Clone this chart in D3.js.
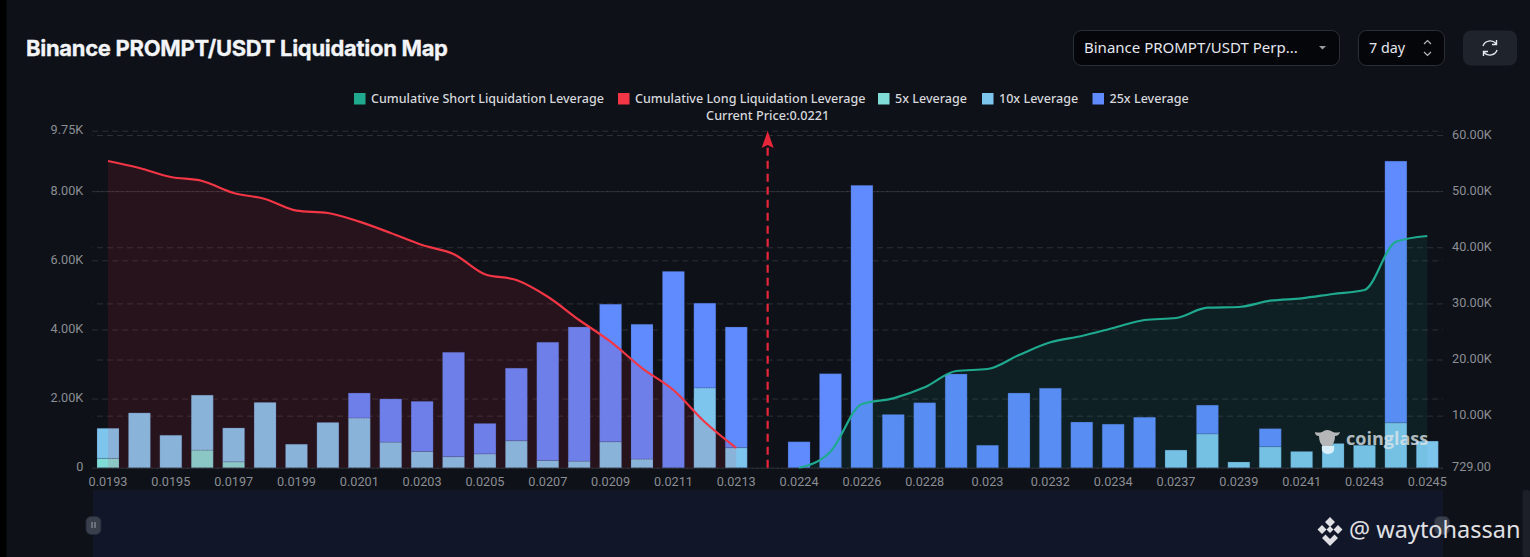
<!DOCTYPE html>
<html>
<head>
<meta charset="utf-8">
<script src="https://cdn.jsdelivr.net/npm/d3@7"></script>
<style>
  html, body { margin: 0; padding: 0; background: #0e1118; overflow: hidden; }
  svg { display: block; }
</style>
</head>
<body>
<svg id="chart" width="1530" height="557"></svg>
<script>
// ===== Data =====
const categories = ["0.0193","0.0194","0.0195","0.0196","0.0197","0.0198","0.0199","0.02","0.0201","0.0202","0.0203",
  "0.0204","0.0205","0.0206","0.0207","0.0208","0.0209","0.021","0.0211","0.0212","0.0213","0.0221",
  "0.0224","0.0225","0.0226","0.0227","0.0228","0.0229","0.023","0.0231","0.0232","0.0233","0.0234","0.0235",
  "0.0237","0.0238","0.0239","0.024","0.0241","0.0242","0.0243","0.0244","0.0245"];
const lev5 = [270,0,0,510,170,0,0,0,0,0,0,0,0,0,0,0,0,0,0,0,0,0,0,0,0,0,0,0,0,0,0,0,0,0,0,0,0,0,0,0,0,0,0];
const lev10 = [870,1585,940,1590,980,1890,680,1310,1440,740,470,320,400,780,210,190,750,250,0,2310,580,0,
  0,0,0,0,0,0,0,0,0,0,0,0,510,980,165,610,470,700,650,1300,770];
const lev25 = [0,0,0,0,0,0,0,0,720,1250,1450,3020,880,2100,3420,3880,3980,3900,5680,2450,3490,0,
  750,2720,8170,1540,1880,2710,650,2160,2300,1320,1260,1460,0,830,0,520,0,0,0,7570,0];
const longCum = [55370,54120,52520,51810,49670,48600,46520,46100,44560,42540,40400,38800,35190,34170,31190,27040,23180,18490,14570,8870,4240];
const shortCum = [729,3580,12080,13090,15050,17960,18310,20810,23070,24190,25620,27040,27400,29230,29360,30480,30910,31680,32390,40990,42010];
const leftTicks = [0,2000,4000,6000,8000,9750];
const rightTicks = [729,10000,20000,30000,40000,50000,60000];
const legendItems = [
  { name: "Cumulative Short Liquidation Leverage", color: "#1fa98f", x: 354 },
  { name: "Cumulative Long Liquidation Leverage", color: "#f23645", x: 618 },
  { name: "5x Leverage", color: "#7fdcd6", x: 878 },
  { name: "10x Leverage", color: "#7ec5ee", x: 982 },
  { name: "25x Leverage", color: "#5f8bff", x: 1092.5 }
];
const currentPrice = "0.0221";
const title = "Binance PROMPT/USDT Liquidation Map";
//===============================End of Data===========================

const svg = d3.select("#chart");
const sansFont = "'Noto Sans', sans-serif";
const tickFont = "Roboto, sans-serif";
const tickColor = "#8b8e94";
const gridColor = "rgba(255,255,255,0.13)";

// left edge strip + page background
svg.append("rect").attr("width", 1530).attr("height", 557).attr("fill", "#0e1118");
svg.append("rect").attr("width", 6.5).attr("height", 557).attr("fill", "#000");

//============Scales===================================
const x = d3.scaleBand().domain(categories).range([92.3, 1443]).paddingInner(0.3).paddingOuter(0.15);
const yLeft = d3.scaleLinear().domain([0, 9750]).range([467.7, 130.7]);
const yRight = d3.scaleLinear().domain([729, 60000]).range([467.7, 135]);
const cx = c => x(c) + x.bandwidth() / 2;

//============Slider strip under the chart=============
svg.append("rect").attr("x", 93).attr("y", 490).attr("width", 1350).attr("height", 67).attr("fill", "#111729");

//============Axes=====================================
const fmtK = d => d === 0 ? "0" : d < 1000 ? d3.format(".2f")(d) : d3.format(".2f")(d / 1000) + "K";

function styleAxis(g) {
  g.select(".domain").remove();
  g.selectAll("text").attr("fill", tickColor).style("font-family", tickFont).style("font-size", "12.7px");
  g.selectAll("line").attr("stroke", gridColor).attr("stroke-dasharray", "6,4");
}

svg.append("g")
  .attr("transform", "translate(92.3,0)")
  .call(d3.axisLeft(yLeft).tickValues(leftTicks).tickFormat(fmtK).tickSize(-1350.7).tickPadding(9))
  .call(styleAxis)
  .selectAll("text").attr("dy", "0.25em");

svg.append("g")
  .attr("transform", "translate(1443,0)")
  .call(d3.axisRight(yRight).tickValues(rightTicks).tickFormat(fmtK).tickSize(-1350.7).tickPadding(9))
  .call(styleAxis)
  .selectAll("text").attr("dy", "0.25em");

svg.append("g")
  .attr("transform", "translate(0,467.7)")
  .call(d3.axisBottom(x).tickValues(categories.filter((d, i) => i % 2 === 0)).tickSize(0).tickPadding(9))
  .call(styleAxis);

//============Stacked bars=============================
const barData = categories.map((c, i) => ({ cat: c, lev5: lev5[i], lev10: lev10[i], lev25: lev25[i] }));
const stack = d3.stack().keys(["lev5", "lev10", "lev25"]);
const barColors = { lev5: "#7fdcd6", lev10: "#7ec5ee", lev25: "#5f8bff" };

svg.append("g").selectAll("g")
  .data(stack(barData))
  .join("g")
  .attr("fill", d => barColors[d.key])
  .selectAll("rect")
  .data(d => d.filter(p => p[1] > p[0]))
  .join("rect")
  .attr("x", d => x(d.data.cat))
  .attr("width", x.bandwidth())
  .attr("y", d => yLeft(d[1]))
  .attr("height", d => yLeft(d[0]) - yLeft(d[1]))
  .attr("stroke", "rgba(60,80,120,0.55)")
  .attr("stroke-width", 0.7)
  .attr("stroke-dasharray", "1.5,1");

//============Cumulative areas + lines=================
const longCats = categories.slice(0, longCum.length);
const shortCats = categories.slice(categories.length - shortCum.length);

function drawCumulative(cats, values, color, fill) {
  const pts = cats.map((c, i) => [cx(c), values[i]]);
  svg.append("path").datum(pts)
    .attr("fill", fill)
    .attr("d", d3.area().x(d => d[0]).y0(467.7).y1(d => yRight(d[1])).curve(d3.curveMonotoneX));
  svg.append("path").datum(pts)
    .attr("fill", "none")
    .attr("stroke", color)
    .attr("stroke-width", 2.2)
    .attr("d", d3.line().x(d => d[0]).y(d => yRight(d[1])).curve(d3.curveMonotoneX));
}
drawCumulative(longCats, longCum, "#f23645", "rgba(240,40,60,0.11)");
drawCumulative(shortCats, shortCum, "#1fa98f", "rgba(31,169,143,0.1)");

//============Current price marker=====================
const priceX = cx(currentPrice);
svg.append("line")
  .attr("x1", priceX).attr("x2", priceX).attr("y1", 467.7).attr("y2", 146)
  .attr("stroke", "#e8263a").attr("stroke-width", 2.2).attr("stroke-dasharray", "8,5");
svg.append("path")
  .attr("transform", `translate(${priceX},131)`)
  .attr("d", "M0,0L6,17L0,14L-6,17Z")
  .attr("fill", "#e8263a");
svg.append("text")
  .attr("x", priceX).attr("y", 120).attr("text-anchor", "middle")
  .attr("fill", "#d6d8dc").style("font-family", sansFont).style("font-size", "12.7px").style("font-weight", 500)
  .text("Current Price:" + currentPrice);

//============Legend===================================
const legend = svg.append("g").selectAll("g").data(legendItems).join("g")
  .attr("transform", d => `translate(${d.x},93)`);
legend.append("rect").attr("width", 11.5).attr("height", 11.5).attr("fill", d => d.color);
legend.append("text")
  .attr("x", 17).attr("y", 10)
  .attr("fill", "#d6d8dc").style("font-family", sansFont).style("font-size", "12.55px").style("font-weight", 500)
  .text(d => d.name);

//============Header===================================
svg.append("text")
  .attr("x", 26).attr("y", 56)
  .attr("fill", "#f2f4f8").attr("stroke", "#f2f4f8").attr("stroke-width", 0.3)
  .style("font-family", "Inter, sans-serif").style("font-size", "22px").style("font-weight", 700)
  .style("letter-spacing", "-0.3px")
  .text(title);

function control(cx0, w, fill, stroke) {
  svg.append("rect").attr("x", cx0).attr("y", 30.5).attr("width", w).attr("height", 35).attr("rx", 8)
    .attr("fill", fill).attr("stroke", stroke);
}
control(1073.5, 266, "#04060a", "#2b2f37");
control(1358.5, 86, "#04060a", "#2b2f37");
control(1463, 54, "#1f232b", "none");

const ctlText = (tx, size, t) => svg.append("text").attr("x", tx).attr("y", 53)
  .attr("fill", "#e4e7ee").style("font-family", sansFont).style("font-size", size + "px").text(t);
ctlText(1084, 15, "Binance PROMPT/USDT Perp...");
ctlText(1369, 14.3, "7 day");
svg.append("path").attr("d", "M1319,46h7l-3.5,3.5z").attr("fill", "#9a9da3");
svg.append("path").attr("d", "M1424,44l3.5,-3.5l3.5,3.5M1424,52l3.5,3.5l3.5,-3.5")
  .attr("fill", "none").attr("stroke", "#b5b8be").attr("stroke-width", 1.2);
svg.append("path")
  .attr("d", "M1483,46a7.5,7 0 0 1 13,-2.5M1497,50a7.5,7 0 0 1 -13,2.5M1496.5,40v4.5h-4.5M1483.5,56v-4.5h4.5")
  .attr("fill", "none").attr("stroke", "#e4e7ee").attr("stroke-width", 1.4);

//============Slider handles===========================
[93.5, 1442].forEach(hx => {
  svg.append("rect").attr("x", hx - 7.5).attr("y", 516.5).attr("width", 15).attr("height", 18).attr("rx", 5)
    .attr("fill", "#3a3f4c").attr("stroke", "#23283a");
});
svg.append("path").attr("d", "M92,522v6M95,522v6").attr("stroke", "#9ea2ab").attr("stroke-width", 1);
svg.append("rect").attr("x", 1522.5).attr("y", 490).attr("width", 8).attr("height", 67).attr("rx", 3).attr("fill", "#1c1f27");

//============Watermarks===============================
const cow = svg.append("g").attr("fill", "#b4b6b8");
cow.append("path").attr("d", "M1315,432q4,1 7,0q5,-4 11,0q3,1 7,0q-1,4 -5,4q0,7 -4,10h-8q-4,-3 -4,-10q-4,0 -4,-4z");
cow.append("path").attr("d", "M1322,446h12q1,5 -2,7q-4,2 -8,0q-3,-2 -2,-7z").attr("fill", "#d8eef8");
svg.append("text").attr("x", 1346).attr("y", 445)
  .attr("fill", "rgba(222,228,232,0.8)").style("font-family", "'Open Sans', sans-serif").style("font-size", "18px").style("font-weight", 700)
  .text("coinglass");

const wm = svg.append("g").attr("fill", "#e0e0e4");
wm.append("path").attr("d", "M1330,517l5,5l-5,5l-5,-5zM1317.5,529.5l4.5,-4.5l4.5,4.5l-4.5,4.5zM1333.5,529.5l4.5,-4.5l4.5,4.5l-4.5,4.5zM1330,526l3.5,3.5l-3.5,3.5l-3.5,-3.5zM1322,538l3.5,-3.5l4.5,4.5l4.5,-4.5l3.5,3.5l-8,8z");
svg.append("text").attr("x", 1349).attr("y", 538)
  .attr("fill", "#e0e0e4").style("font-family", sansFont).style("font-size", "23.5px")
  .text("@ waytohassan");
</script>
</body>
</html>
